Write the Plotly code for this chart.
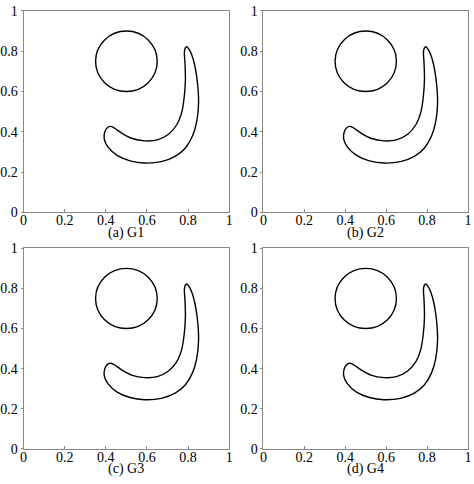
import plotly.graph_objects as go

# ---- data ----
panel_labels = ["(a) G1", "(b) G2", "(c) G3", "(d) G4"]
tick_vals = [0, 0.2, 0.4, 0.6, 0.8, 1]
tick_text = ["0", "0.2", "0.4", "0.6", "0.8", "1"]

circle_center = (0.5, 0.75)
circle_radius = 0.15

crescent_x = [0.793, 0.810, 0.825, 0.838, 0.848, 0.851, 0.842, 0.822, 0.787, 0.737,
              0.670, 0.588, 0.518, 0.455, 0.410, 0.392, 0.395, 0.407, 0.421, 0.440,
              0.475, 0.525, 0.590, 0.650, 0.705, 0.745, 0.770, 0.782, 0.787, 0.785,
              0.782, 0.786, 0.793]
crescent_y = [0.822, 0.800, 0.760, 0.700, 0.620, 0.540, 0.450, 0.380, 0.320, 0.278,
              0.252, 0.245, 0.256, 0.283, 0.325, 0.365, 0.400, 0.420, 0.427, 0.420,
              0.395, 0.368, 0.355, 0.360, 0.388, 0.435, 0.500, 0.580, 0.660, 0.740,
              0.795, 0.815, 0.822]

# ---- layout geometry (pixels) ----
W, H = 474, 484
panels = [  # (left, right, top, bottom) in px
    (18, 228, 4, 212),
    (263, 472, 4, 212),
    (18, 228, 249, 456),
    (263, 472, 249, 456),
]

fig = go.Figure()
SERIF = "Liberation Serif"
tick_font = dict(family=SERIF, size=14, color="black")
label_font = dict(family=SERIF, size=14, color="black")

for i, (l, r, t, b) in enumerate(panels):
    n = "" if i == 0 else str(i + 1)
    xa, ya = "x" + n, "y" + n
    fig.add_trace(go.Scatter(
        x=crescent_x, y=crescent_y, mode="lines",
        line=dict(color="black", width=1.4, shape="spline", smoothing=0.8),
        xaxis=xa, yaxis=ya, showlegend=False, hoverinfo="skip"))
    cx, cy = circle_center
    fig.add_shape(type="circle", xref=xa, yref=ya,
                  x0=cx - circle_radius, x1=cx + circle_radius,
                  y0=cy - circle_radius, y1=cy + circle_radius,
                  line=dict(color="black", width=1.4))
    axis_common = dict(range=[0, 1], tickvals=tick_vals, ticktext=tick_text,
                       showgrid=False, zeroline=False, showline=True, mirror=True,
                       linecolor="#888888", linewidth=1, ticklen=3,
                       tickcolor="#888888", tickfont=tick_font, fixedrange=True)
    fig.update_layout(**{
        "xaxis" + n: dict(axis_common, domain=[l / W, r / W], anchor=ya,
                          ticks="inside", ticklabelstandoff=-5),
        "yaxis" + n: dict(axis_common, domain=[(H - b) / H, (H - t) / H], anchor=xa,
                          ticks="outside", ticklen=2),
    })
    fig.add_annotation(text=panel_labels[i], xref="paper", yref="paper",
                       x=(l + r) / 2 / W, y=(H - (b + 21)) / H,
                       showarrow=False, font=label_font, yanchor="middle", xanchor="center")

fig.update_layout(width=W, height=H, margin=dict(l=0, r=0, t=0, b=0),
                  font=dict(family=SERIF, color="black"),
                  paper_bgcolor="white", plot_bgcolor="white")

fig.write_html("out.html", config={"displayModeBar": False},
               post_script="document.body.style.margin='0';")
